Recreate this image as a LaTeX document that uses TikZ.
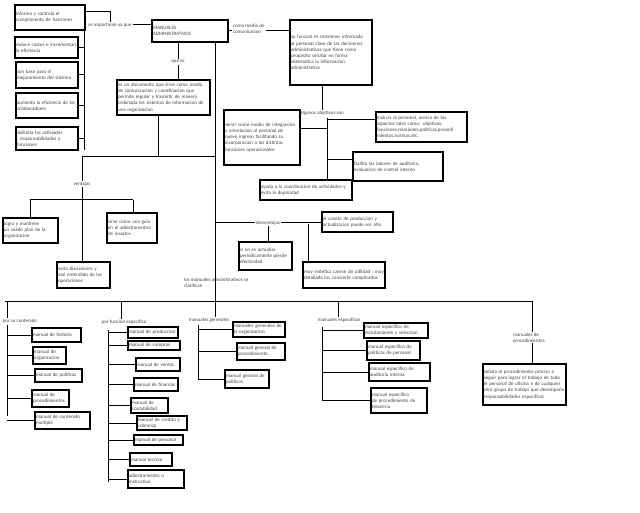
\documentclass[tikz,border=0pt]{standalone}
\usepackage{fontspec}
\setmainfont{Carlito}
\hyphenpenalty=10000
\exhyphenpenalty=10000
\begin{document}
\begin{tikzpicture}[x=1pt,y=-1pt,line width=1pt,
  bx/.style={draw,line width=1.2pt,anchor=north west,inner sep=1pt,outer sep=0pt,align=left,font=\fontsize{5}{6.1}\selectfont,text=black!75},
  lb/.style={inner sep=0.5pt,align=left,font=\fontsize{5}{6.1}\selectfont,text=black!75}]
\useasboundingbox (0,0) rectangle (640,513);
\newcommand\bx[6]{\pgfmathsetmacro\bw{#4-#2-2}\pgfmathsetmacro\bh{#5-#3}%
  \node[bx,text width=\bw pt,minimum height=\bh pt] (#1) at (#2,#3) {#6};}
% left boxes
\bx{b1}{15}{5}{85}{30}{informa y controla el cumplimiento de funciones}
\bx{b2}{15}{37}{78}{58}{reduce costos e incrementan la eficiencia}
\bx{b3}{16}{62}{78}{88}{son base para el mejoramiento del sistema}
\bx{b4}{16}{93}{78}{118}{aumenta la eficiencia de los colaboradores}
\bx{b5}{16}{127}{78}{150}{delimita las activiades , responsabilidades y funciones}
\bx{main}{152}{20}{228}{42}{MANUALES\\ADMINISTRATIVOS}
\bx{suf}{290}{20}{372}{85}{su funcion es mantener informado al personal clave de las decisiones administrativas que tiene como proposito señalar en forma sistematica la informacion administrativa\\[8pt]}
\bx{doc}{117}{80}{210}{115}{es un documento que sirve como medio de comunicacion y coordinacion que permite regular y trasmitir de manera ordenada los sistemas de informacion de una organizacion}
\bx{serv}{224}{110}{300}{165}{servir como medio de integracion y orientacion al personal de nuevo ingreso facilitando su incorporacion a las distintas funciones operacionales}
\bx{inst}{376}{112}{467}{142}{instruir al personal, acerca de los aspectos tales como: objetivos, funciones,relaciones,politicas,procedi mientos,normas,etc.}
\bx{fac}{353}{152}{443}{181}{facilita las labores de auditoria, evaluacion de control interno}
\bx{ay}{260}{180}{352}{200}{ayuda a la coordinacion de actividades y evita la duplicidad}
\bx{v1}{3}{218}{58}{243}{logra y mantiene un solido plan de la organizacion}
\bx{v2}{107}{213}{157}{243}{sirve como una guia en el adiestrameitno de novatos}
\bx{v3}{57}{262}{110}{288}{evita discusiones y mal entendido de las operaciones}
\bx{cos}{322}{212}{393}{232}{el cosoto de produccion y actualizacion puede ser alto}
\bx{si}{239}{242}{292}{270}{si no se actualiza periodicamente pierde efectividad}
\bx{muy}{303}{262}{385}{288}{muy sintetica carece de utilidad ; muy detallada los convierte complicados}
% por su contenido
\bx{c1}{32}{328}{81}{342}{manual de historia}
\bx{c2}{33}{347}{66}{364}{manual de organizacion}
\bx{c3}{35}{369}{82}{382}{manual de politicas}
\bx{c4}{32}{390}{69}{407}{manual de procedimientos}
\bx{c5}{35}{412}{90}{429}{manual de contenido multiple}
% por funcion
\bx{f1}{128}{327}{178}{338}{manual de produccion}
\bx{f2}{128}{341}{180}{350}{manual de compras}
\bx{f3}{136}{358}{180}{371}{manual de ventas}
\bx{f4}{134}{378}{178}{391}{manual de finanzas}
\bx{f5}{131}{398}{168}{413}{manual de contabilidad}
\bx{f6}{137}{416}{187}{430}{manual de credito y cobranza}
\bx{f7}{134}{435}{183}{445}{manual de personal}
\bx{f8}{130}{453}{172}{466}{manual tecnico}
\bx{f9}{128}{470}{184}{488}{adiestramiento o instructivo}
% generales
\bx{g1}{233}{322}{285}{337}{manuales generales de la organizacion}
\bx{g2}{237}{343}{285}{360}{manual general de procedimiento}
\bx{g3}{225}{370}{269}{388}{manual general de politicos}
% especificos
\bx{e1}{364}{323}{428}{338}{manual especifico de reclutamiento y seleccion}
\bx{e2}{367}{341}{420}{360}{manual especifico de politicas de personal}
\bx{e3}{369}{363}{430}{381}{manual especifico de auditoria interna}
\bx{e4}{371}{388}{427}{413}{manual especifico de procedimiento de tesoreria}
\bx{pr}{483}{364}{566}{405}{señala el procedimiento preciso a seguir para lograr el trabajo de todo el personal de oficina o de cualquier otro grupo de trabajo que desempeña responsabilidades especificas}
% labels
\node[lb] (L1) at (110,25) {es importante ya que};
\node[lb,anchor=west] (L2) at (232,29) {como medio de\\comunicacion};
\node[lb] (L3) at (178,62) {que es};
\node[lb] (L4) at (322,113) {algunos objetivos son};
\node[lb] (L5) at (82,184) {ventajas};
\node[lb] (L6) at (268,223) {desventajas};
\node[lb,anchor=west] (L7) at (183,283) {los manuales administrativos se\\clasifican};
\node[lb] (L8) at (20,321) {por su contenido};
\node[lb] (L9) at (124,322) {por funcion especifica};
\node[lb] (L10) at (209,320) {manuales generales};
\node[lb] (L11) at (339,320) {manuales especificos};
\node[lb,anchor=west] (L12) at (512,338) {manuales de\\procedimientos};
% left bracket
\coordinate (bt) at (84,8); \coordinate (bb) at (84,150);
\draw (bt) -- (bb);
\foreach \b in {b1,b2,b3,b4,b5} \draw (\b.east) -- (\b.east -| bt);
\draw (84,12) -| (L1.north);
\draw (L1.east) -- (main.west |- L1.east);
\draw (main.east) -- (L2.west |- main.east);
\draw (L2.east |- main.east) -- (suf.west |- main.east);
\draw (main.south -| L3.north) -- (L3.north);
\draw (L3.south) -- (doc.north -| L3.south);
\coordinate (spine) at (215,301);
\draw (main.south -| spine) -- (spine);
% ventajas
\draw (doc.south -| 158,0) -- (158,157);
\draw (82,157) -- (215,157);
\draw (82,157) -- (L5.north);
\draw (L5.south) -- (82,200);
\draw (30,200) -- (133,200);
\draw (30,200) -- (v1.north -| 30,0);
\draw (133,200) -- (v2.north -| 133,0);
\draw (82,200) -- (v3.north -| 82,0);
% objetivos
\draw (suf.south -| L4.north) -- (L4.north);
\coordinate (ob) at (327,118);
\draw (ob) -- (ay.north -| ob);
\draw (serv.east |- 0,129) -- (327,129);
\draw (327,120) -- (inst.west |- 0,120);
\draw (327,160) -- (fac.west |- 0,160);
% desventajas
\draw (215,223) -- (L6.west);
\draw (L6.east) -- (cos.west |- L6.east);
\draw (L6.south) -- (si.north -| L6.south);
\draw (308,224) -- (muy.north -| 308,0);
% clasificacion
\draw (5,301) -- (532,301);
\draw (7,301) -- (L8.north -| 7,0);
\draw (121,301) -- (L9.north -| 121,0);
\draw (215,301) -- (L10.north -| 215,0);
\draw (338,301) -- (L11.north -| 338,0);
\draw (532,301) -- (L12.north -| 532,0);
\draw (532,343) -- (pr.north -| 532,0);
\draw (7,325) -- (7,416);
\foreach \b in {c1,c2,c3,c4,c5} \draw (\b.west) -- (\b.west -| 7,0);
\draw (108,330) -- (108,482);
\foreach \b in {f1,f2,f3,f4,f5,f6,f7,f8,f9} \draw (\b.west) -- (\b.west -| 108,0);
\draw (198,325) -- (198,379);
\foreach \b in {g1,g2,g3} \draw (\b.west) -- (\b.west -| 198,0);
\draw (322,327) -- (322,400);
\foreach \b in {e1,e2,e3,e4} \draw (\b.west) -- (\b.west -| 322,0);
\end{tikzpicture}
\end{document}
